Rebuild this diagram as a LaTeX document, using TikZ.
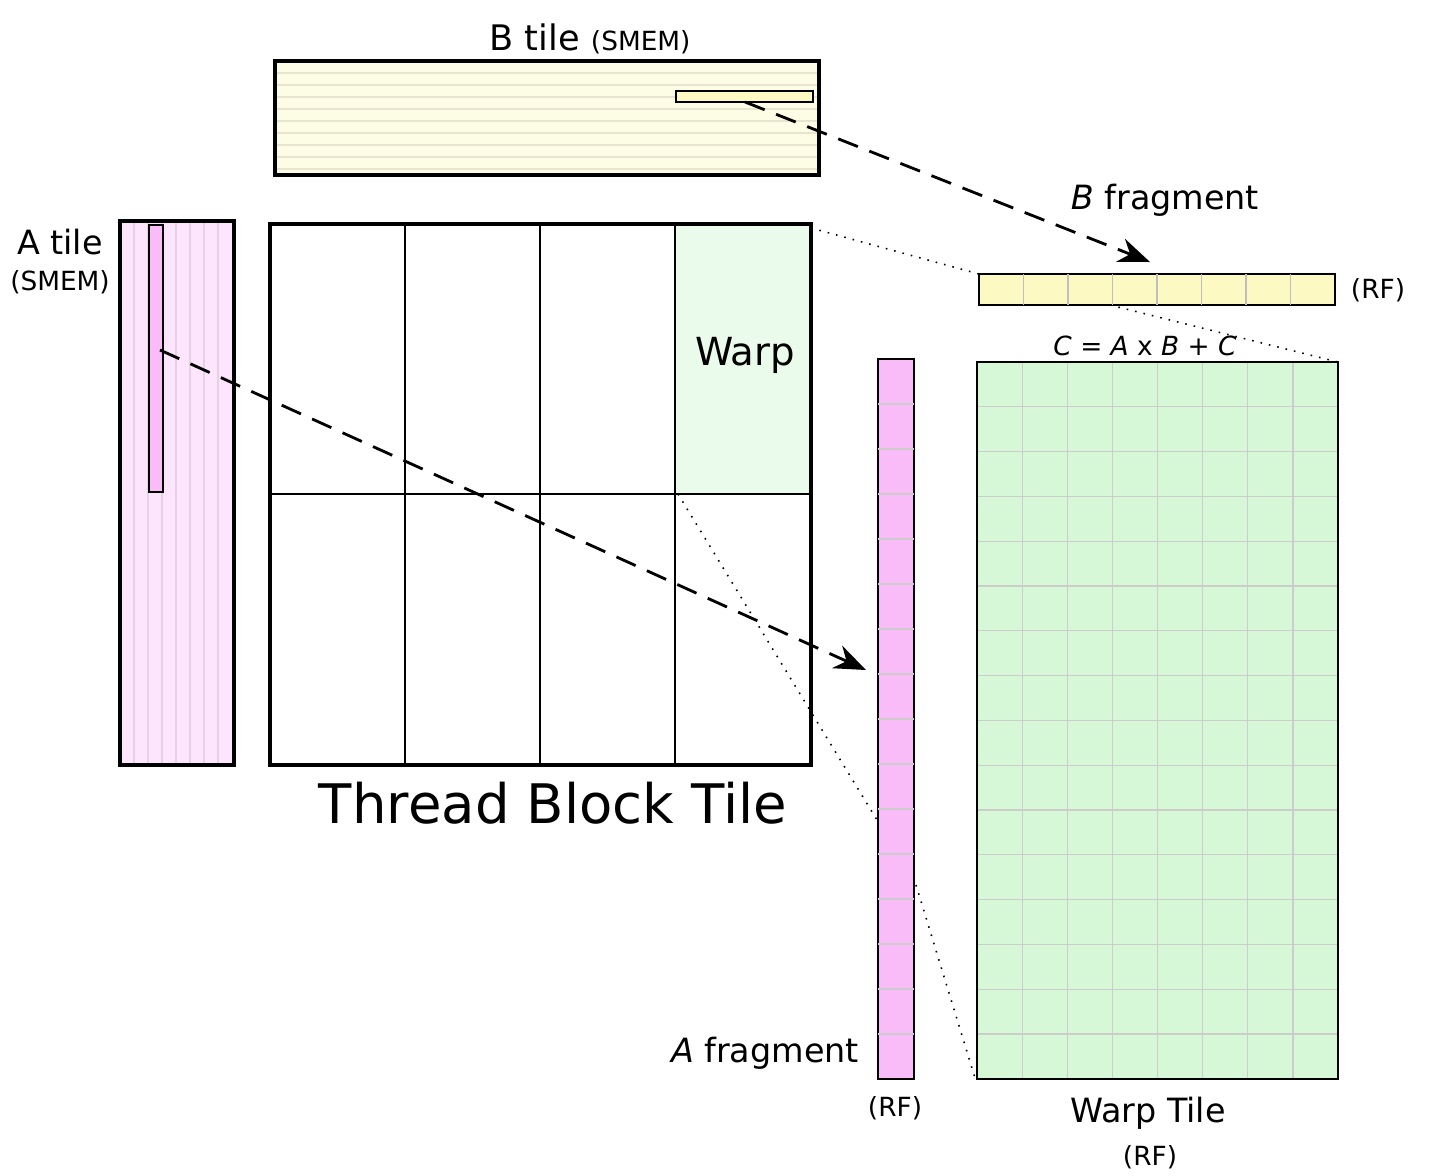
\documentclass[tikz,border=0pt]{standalone}
\usepackage{fontspec}
\setmainfont{DejaVu Sans}
\usetikzlibrary{arrows.meta}
\begin{document}
\begin{tikzpicture}[x=0.01cm,y=-0.01cm,
  thickbox/.style={draw=black,line width=1.1pt},
  thinbox/.style={draw=black,line width=0.5pt},
  dotl/.style={dotted,line width=0.45pt},
  darr/.style={line width=0.8pt,dash pattern=on 6pt off 3.5pt,-{Stealth[length=9pt,width=7pt]}},
  lbl/.style={inner sep=0pt,font=\fontsize{9.5}{11}\selectfont},
  sm/.style={inner sep=0pt,font=\fontsize{7.5}{9}\selectfont}]
\useasboundingbox (0,0) rectangle (1440,1175);
\definecolor{ylt}{HTML}{FDFDE6}\definecolor{yfr}{HTML}{FCF9C2}
\definecolor{plt}{HTML}{FDE6FD}\definecolor{pfr}{HTML}{F9BCF9}
\definecolor{glt}{HTML}{EBFBEB}\definecolor{gfr}{HTML}{D6F8D6}
% B tile
\fill[ylt] (275,61) rectangle (819,175);
\foreach \y in {73,85,...,170} \draw[yfr!70!gray!60,line width=0.3pt] (275,\y) -- (819,\y);
\draw[thickbox] (275,61) rectangle (819,175);
\draw[thinbox,fill=yfr] (676,91) rectangle (813,102);
\coordinate (bs) at (745,102);
\node[inner sep=0pt,anchor=base] (btl) at (590,50) {\fontsize{10}{12}\selectfont B tile \fontsize{7.5}{9}\selectfont(SMEM)};
% A tile
\fill[plt] (120,221) rectangle (234,765);
\foreach \x in {134,148,...,230} \draw[pfr!60!gray!50,line width=0.3pt] (\x,221) -- (\x,765);
\draw[thickbox] (120,221) rectangle (234,765);
\draw[thinbox,fill=pfr] (149,225) rectangle (163,492);
\coordinate (as) at (160,350);
\node[lbl] (atl) at (60,242) {A tile};
\node[sm] (atsm) at (60,282) {(SMEM)};
% Thread block
\fill[glt] (675,224) rectangle (811,494);
\foreach \x in {405,540,675} \draw[line width=0.5pt] (\x,224) -- (\x,765);
\draw[line width=0.5pt] (270,494) -- (811,494);
\draw[thickbox] (270,224) rectangle (811,765);
\node[inner sep=0pt,font=\fontsize{11}{13}\selectfont] (warp) at (745,355) {Warp};
\node[inner sep=0pt,font=\fontsize{15.5}{18}\selectfont] (tbt) at (553,803) {Thread Block Tile};
% B fragment
\draw[thinbox,fill=yfr] (979,274) rectangle (1335,305);
\foreach \i in {1,...,7} \draw[gray!50,line width=0.3pt] ({979+\i*44.5},274) -- ({979+\i*44.5},305);
\node[lbl] (bfl) at (1165,200) {\textit{B} fragment};
\node[sm] (brf) at (1378,290) {(RF)};
\coordinate (be) at (1150,262);
% Warp tile
\fill[gfr] (977,362) rectangle (1338,1079);
\foreach \i in {1,...,7} \draw[gray!40,line width=0.35pt] ({977+\i*45.125},362) -- ({977+\i*45.125},1079);
\foreach \i in {1,...,15} \draw[gray!40,line width=0.35pt] (977,{362+\i*44.8}) -- (1338,{362+\i*44.8});
\draw[line width=0.75pt] (977,362) rectangle (1338,1079);
\node[inner sep=0pt,font=\fontsize{7.5}{9}\selectfont\itshape] (eq) at (1145,346) {C = A {\upshape x} B {\upshape +} C};
\node[lbl] (wt) at (1148,1113) {Warp Tile};
\node[sm] (wrf) at (1150,1157) {(RF)};
% A fragment
\draw[thinbox,fill=pfr] (878,359) rectangle (914,1079);
\foreach \i in {1,...,15} \draw[gray!40,line width=0.3pt] (878,{359+\i*45}) -- (914,{359+\i*45});
\node[lbl] (afl) at (765,1053) {\textit{A} fragment};
\node[sm] (arf) at (895,1108) {(RF)};
\coordinate (ae) at (866,670);
% dotted zoom lines
\draw[dotl] (811,228) -- (979,274);
\draw[dotl] (1110,305) -- (1338,362);
\draw[dotl] (678,494) -- (877,820);
\draw[dotl] (916,885) -- (975,1078);
% arrows
\draw[darr] (bs) -- (be);
\draw[darr] (as) -- (ae);
\end{tikzpicture}
\end{document}
